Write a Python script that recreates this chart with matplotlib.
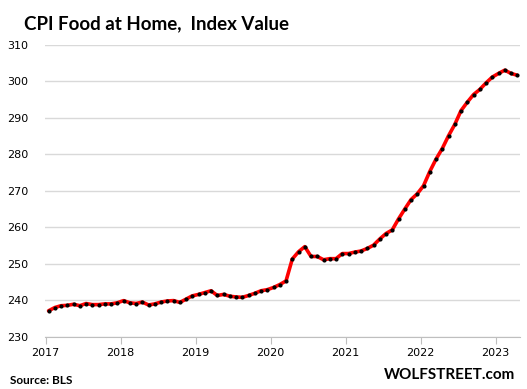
import matplotlib.pyplot as plt
import numpy as np

# CPI food at home, monthly, Jan 2017 - Apr 2023
start_year = 2017
cpi = [
    # 2017
    237.1, 238.0, 238.5, 238.6, 238.9, 238.5, 239.1, 238.8, 238.8, 239.0, 239.0, 239.3,
    # 2018
    239.9, 239.3, 239.1, 239.5, 238.7, 239.0, 239.5, 239.8, 239.9, 239.4, 240.3, 241.2,
    # 2019
    241.6, 242.1, 242.6, 241.3, 241.6, 241.1, 240.9, 240.8, 241.3, 241.9, 242.6, 242.9,
    # 2020
    243.5, 244.3, 245.3, 251.3, 253.3, 254.7, 252.0, 252.0, 251.1, 251.4, 251.4, 252.8,
    # 2021
    252.8, 253.2, 253.5, 254.2, 255.1, 256.8, 258.3, 259.3, 262.3, 265.0, 267.6, 269.2,
    # 2022
    271.4, 275.3, 278.7, 281.6, 285.1, 288.2, 292.0, 294.3, 296.4, 297.8, 299.6, 301.2,
    # 2023
    302.2, 303.1, 302.2, 301.7,
]
years = [2017, 2018, 2019, 2020, 2021, 2022, 2023]
yticks = [230, 240, 250, 260, 270, 280, 290, 300, 310]

x = start_year + (np.arange(len(cpi)) + 0.45) / 12

fig = plt.figure(figsize=(5.27, 3.89), dpi=100)
ax = fig.add_axes([45/527, 1 - 336.7/389, 475/527, 291.7/389])

ax.plot(x, cpi, color='#FF0000', lw=2.6, solid_capstyle='round', zorder=3)
ax.plot(x, cpi, linestyle='none', marker='o', ms=2.0, color='black', zorder=4)

ax.set_xlim(2016.99, 2023.324)
ax.set_ylim(230, 310)
ax.set_xticks(years)
ax.set_xticklabels([str(y) for y in years])
ax.set_yticks(yticks)
ax.grid(axis='y', color='#D9D9D9', lw=1)
ax.set_axisbelow(True)

for s in ['top', 'right', 'left']:
    ax.spines[s].set_visible(False)
ax.spines['bottom'].set_color('#BFBFBF')
ax.tick_params(axis='y', length=0, labelsize=8, pad=12)
ax.tick_params(axis='x', length=5, color='#BFBFBF', labelsize=8, pad=3)

fig.text(24/527, 1 - 24/389, 'CPI Food at Home,  Index Value', fontsize=13.5,
         fontweight='bold', family='Lato', va='center', ha='left')
fig.text(10/527, 1 - 380/389, 'Source: BLS', fontsize=8.5, fontweight='bold',
         family='Lato', va='center', ha='left')
fig.text(515/527, 1 - 375/389, 'WOLFSTREET.com', fontsize=11, fontweight='bold',
         family='Lato', va='center', ha='right')

fig.savefig('out.png', dpi=100)
